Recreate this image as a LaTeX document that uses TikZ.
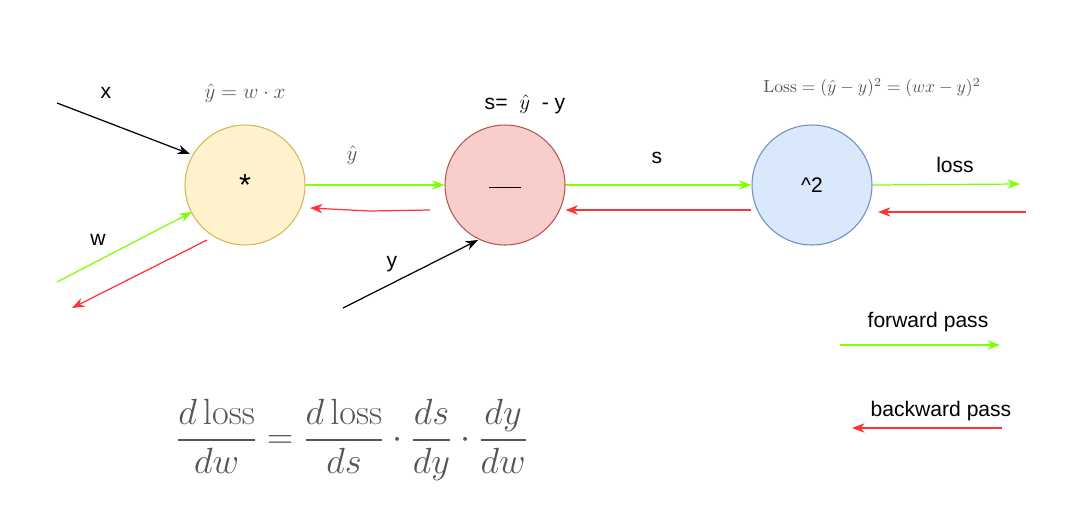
\documentclass[tikz,border=0pt]{standalone}
\usepackage{amsmath}
\usepackage[no-math]{fontspec}
\setmainfont{Liberation Sans}
\usetikzlibrary{arrows.meta}
\definecolor{gA}{HTML}{80FF00}
\definecolor{rA}{HTML}{FF3333}
\definecolor{mg}{HTML}{555555}
\tikzset{
 nd/.style={circle,minimum size=2.4cm,inner sep=0pt,line width=0.6pt,font=\large},
 fw/.style={gA,line width=0.7pt,-{Stealth[length=2.5mm]}},
 bw/.style={rA,line width=0.7pt,-{Stealth[length=2.5mm]}},
 bk/.style={black,line width=0.7pt,-{Stealth[length=2.5mm]}},
 lb/.style={font=\large}
}
\begin{document}
\begin{tikzpicture}[x=0.02cm,y=-0.02cm]
\useasboundingbox (0,0) rectangle (1078,528);
\node[nd,font=\LARGE,draw={rgb,255:red,214;green,182;blue,86},fill={rgb,255:red,255;green,242;blue,204}] (m) at (245,185) {*};
\node[nd,draw={rgb,255:red,184;green,84;blue,80},fill={rgb,255:red,248;green,206;blue,204}] (s) at (505,185) {\rule[-0.6ex]{1.5em}{0.6pt}};
\node[nd,draw={rgb,255:red,108;green,142;blue,191},fill={rgb,255:red,218;green,232;blue,252}] (q) at (812,185) {\^{}2};
\coordinate (x0) at (57,103);
\coordinate (w0) at (57,282);
\coordinate (w1) at (72,308);
\coordinate (y0) at (343,308);
\coordinate (l0) at (1020,184);
\coordinate (l1) at (1026,212);
\draw[bk] (x0) -- (190,154);
\draw[fw] (w0) -- (192,212);
\draw[bw] (207,240) -- (w1);
\draw[fw] (m.east) -- (s.west);
\draw[bw] (430,210) -- (370,211) -- (310,208);
\draw[bk] (y0) -- (478,240);
\draw[fw] (s.east) -- (q.west);
\draw[bw] (q.west|-0,210) -- (s.east|-0,210);
\draw[fw] (q.east) -- (l0);
\draw[bw] (l1) -- (878,212);
\node[lb] at (106,93) {x};
\node[lb] at (98,240) {w};
\node[lb,text=mg] at (352,155) {$\hat y$};
\node[lb] at (392,264) {y};
\node[lb] at (657,158) {s};
\node[lb] at (955,165) {loss};
\node[lb,text=mg] at (245,93) {$\hat y = w\cdot x$};
\node[lb] at (525,104) {s=\ \ $\hat y$\ \ - y};
\node[text=mg] at (872,88) {$\mathrm{Loss} = (\hat y - y)^2 = (wx-y)^2$};
\node[text=mg,font=\huge] at (352,440) {$\dfrac{d\,\mathrm{loss}}{dw} = \dfrac{d\,\mathrm{loss}}{ds}\cdot\dfrac{ds}{dy}\cdot\dfrac{dy}{dw}$};
\coordinate (f0) at (840,345); \coordinate (f1) at (1000,345);
\draw[fw] (f0) -- (f1);
\node[lb] at (928,322) {forward pass};
\coordinate (b0) at (1002,428); \coordinate (b1) at (852,428);
\draw[bw] (b0) -- (b1);
\node[lb] at (941,411) {backward pass};
\end{tikzpicture}
\end{document}
